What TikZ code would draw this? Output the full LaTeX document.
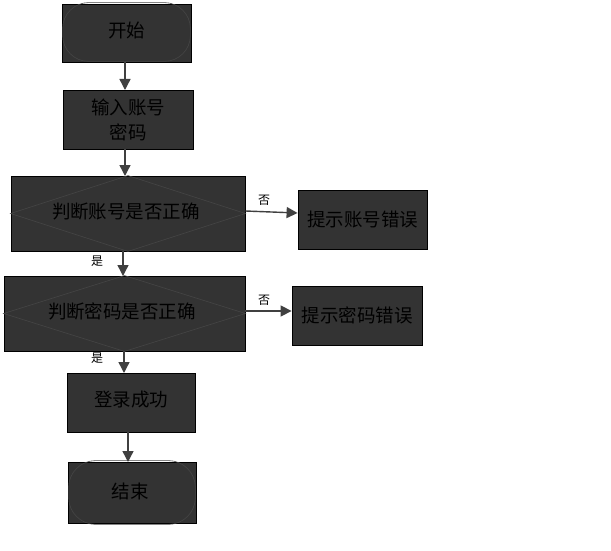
\documentclass[tikz,border=0pt]{standalone}
\usepackage{fontspec}
\newfontfamily\cjk{Noto Sans CJK SC}
\usetikzlibrary{arrows.meta,positioning}
\definecolor{boxfill}{HTML}{333333}
\definecolor{inner}{HTML}{454545}
\definecolor{arr}{HTML}{404040}
\tikzset{
  box/.style={draw=black, fill=boxfill, line width=0.8pt, inner sep=0pt, font=\cjk\fontsize{18.5}{25}\selectfont, text=black, align=center},
  conn/.style={draw=arr, line width=1.4pt, -{Triangle[length=11pt,width=11pt]}},
  lbl/.style={font=\cjk\fontsize{12}{14}\selectfont, text=black, inner sep=0pt},
  innerline/.style={draw=inner, line width=0.6pt},
  txt/.style={font=\cjk\fontsize{18.5}{25}\selectfont, text=black}
}
\begin{document}
\begin{tikzpicture}[x=1pt,y=-1pt]
\useasboundingbox (0,0) rectangle (611,551);
% start
\node[box, minimum width=129pt, minimum height=58pt] (start) at (126.5,33) {};
\draw[innerline, rounded corners=26pt] (start.south west) ++(1,-1) rectangle ([xshift=-1pt,yshift=1pt]start.north east);
\node[txt] at (126.5,30) {开始};
% input
\node[box, minimum width=130pt, minimum height=59pt] (input) at (128,119.5) {输入账号\\密码};
% decision 1
\node[box, minimum width=234pt, minimum height=75pt] (d1) at (128,213.5) {};
\draw[innerline] (d1.west) -- (d1.north) -- (d1.east) -- (d1.south) -- cycle;
\node[txt] at (126,211) {判断账号是否正确};
% error 1
\node[box, minimum width=129pt, minimum height=59pt] (e1) at (362.5,219.5) {提示账号错误};
% decision 2
\node[box, minimum width=241pt, minimum height=75pt] (d2) at (124.5,313.5) {};
\draw[innerline] (d2.west) -- (d2.north) -- (d2.east) -- (d2.south) -- cycle;
\node[txt] at (122,311) {判断密码是否正确};
% error 2
\node[box, minimum width=130pt, minimum height=59pt] (e2) at (357,315.5) {提示密码错误};
% success
\node[box, minimum width=128pt, minimum height=59pt] (ok) at (131,402.5) {};
\node[txt] at (131,400) {登录成功};
% end
\node[box, minimum width=128pt, minimum height=61pt] (stop) at (132,492.5) {};
\draw[innerline, rounded corners=27pt] ([xshift=1pt,yshift=-1pt]stop.south west) rectangle ([xshift=-1pt,yshift=1pt]stop.north east);
\node[txt] at (130,491) {结束};
% connectors
\draw[conn] (125,62) -- (125,90);
\draw[conn] (125,149) -- (125,176);
\draw[conn] (d1.east |- 0,211) -- (e1.west |- 0,213);
\draw[conn] (123,251) -- (123,276);
\draw[conn] (d2.east |- 0,311) -- (e2.west |- 0,311);
\draw[conn] (124,351) -- (124,373);
\draw[conn] (128,432) -- (128,462);
% labels
\node[lbl] (n1) at (264,200) {否};
\node[lbl] (y1) at (97,261) {是};
\node[lbl] (n2) at (264,300) {否};
\node[lbl] (y2) at (97,358) {是};
\end{tikzpicture}
\end{document}
